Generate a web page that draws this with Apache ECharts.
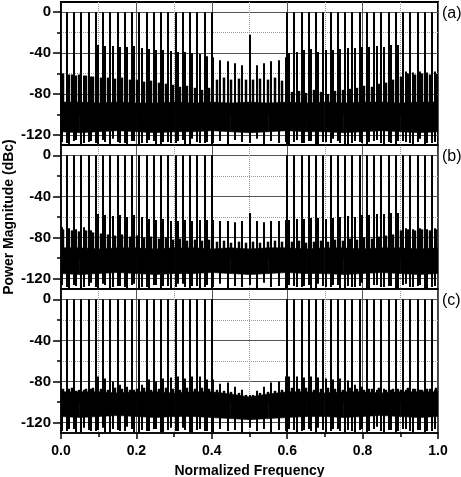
<!doctype html>
<html>
<head>
	<meta charset="UTF-8">
	<title>Power Magnitude</title>
	<script src="https://cdn.jsdelivr.net/npm/echarts@6/dist/echarts.min.js"></script>
	<style>
		html, body {
			margin: 0;
			padding: 0;
			background: #fff;
		}
		#chart {
			width: 461px;
			height: 477px;
		}
	</style>
</head>
<body>
<div id="chart"></div>
<script>
	// main tones (0 dBc) and where their skirts end at the bottom
	var toneX = [0.015, 0.035, 0.054, 0.073, 0.092, 0.112, 0.131, 0.150, 0.169, 0.188, 0.208,
		0.227, 0.246, 0.265, 0.285, 0.304, 0.323, 0.342, 0.362, 0.381, 0.400,
		0.600, 0.619, 0.638, 0.658, 0.677, 0.696, 0.715, 0.735, 0.754, 0.773, 0.792,
		0.812, 0.831, 0.850, 0.869, 0.888, 0.908, 0.927, 0.946, 0.965, 0.985];
	var toneTop = [0, 0, 0, 0, 0, 0, 0, 0, 0, 0, 0, 0, 0, 0, 0, 0, 0, 0, 0, 0, 0,
		0, 0, 0, 0, 0, 0, 0, 0, 0, 0, 0, 0, 0, 0, 0, 0, 0, 0, 0, 0, 0];
	var toneLow = [-128, -126, -129, -127, -128, -125, -129, -127, -128, -126, -129,
		-128, -126, -129, -127, -128, -125, -129, -127, -128, -129,
		-129, -127, -128, -126, -129, -127, -128, -126, -129, -128, -127,
		-129, -126, -128, -127, -129, -126, -128, -127, -129, -128];

	// spurs next to each tone and inside the notch
	var spurX = [0.003, 0.021, 0.041, 0.060, 0.079, 0.098, 0.118, 0.137, 0.156, 0.175, 0.194,
		0.214, 0.233, 0.252, 0.271, 0.291, 0.310, 0.329, 0.348, 0.368, 0.387,
		0.404, 0.423, 0.442, 0.462, 0.481, 0.500, 0.519, 0.538, 0.558, 0.577, 0.596,
		0.606, 0.625, 0.644, 0.664, 0.683, 0.702, 0.721, 0.741, 0.760, 0.779, 0.798,
		0.818, 0.837, 0.856, 0.875, 0.894, 0.914, 0.933, 0.952, 0.971, 0.991];
	var spurA = [-60, -61, -62, -62, -63, -32, -33, -33, -34, -34, -33,
		-35, -36, -37, -37, -38, -39, -39, -40, -41, -43,
		-44, -47, -48, -50, -52, -22, -52, -50, -48, -47, -44,
		-40, -39, -37, -36, -39, -37, -37, -36, -35, -35, -34,
		-34, -33, -34, -32, -32, -58, -59, -58, -59, -58];
	var spurB = [-70, -71, -72, -70, -73, -57, -58, -59, -58, -60, -58,
		-60, -62, -63, -62, -64, -64, -63, -64, -63, -63,
		-63, -64, -64, -65, -64, -56, -64, -65, -64, -64, -63,
		-63, -62, -62, -61, -61, -62, -61, -60, -59, -60, -58,
		-58, -57, -57, -56, -56, -71, -72, -71, -72, -71];
	var spurC = [-88, -87, -89, -88, -87, -75, -77, -80, -83, -85, -88,
		-83, -78, -80, -77, -76, -75, -77, -75, -75, -78,
		-78, -82, -81, -85, -88, -93, -89, -85, -81, -80, -75,
		-75, -75, -76, -75, -76, -77, -78, -77, -79, -83, -85,
		-87, -88, -87, -88, -87, -88, -87, -88, -87, -88];
	var spurLowA = [-127, -129, -125, -128, -126, -129, -127, -124, -128, -129, -126,
		-128, -125, -129, -127, -128, -126, -129, -124, -128, -127,
		-128, -126, -129, -125, -127, -128, -124, -129, -126, -128,
		-127, -129, -125, -128, -126, -129, -127, -124, -128, -129, -126,
		-128, -127, -125, -129, -128, -126, -127, -129, -124, -128, -127];
	var spurLowB = [-126, -129, -127, -128, -124, -129, -126, -128, -127, -129, -125,
		-128, -129, -126, -127, -129, -125, -128, -127, -129, -126,
		-128, -125, -129, -127, -128, -126, -129, -124, -128, -127, -129,
		-126, -128, -127, -129, -125, -128, -126, -129, -127, -128,
		-124, -129, -126, -128, -127, -129, -125, -128, -126, -129, -127];
	var spurLowC = [-128, -126, -129, -125, -128, -127, -129, -126, -128, -124, -129,
		-127, -128, -126, -129, -125, -128, -127, -129, -126, -128,
		-129, -126, -128, -127, -129, -125, -128, -126, -129, -127, -128,
		-126, -129, -127, -128, -125, -129, -126, -128, -127, -129,
		-126, -128, -124, -129, -127, -128, -126, -129, -127, -128, -126];

	// top of the dense spur forest above the noise floor
	var floorX = [0.006, 0.028, 0.047, 0.066, 0.086, 0.105, 0.124, 0.143, 0.163, 0.182, 0.201,
		0.220, 0.239, 0.259, 0.278, 0.297, 0.316, 0.335, 0.355, 0.374, 0.393,
		0.413, 0.433, 0.452, 0.471, 0.490, 0.510, 0.529, 0.548, 0.567, 0.587,
		0.613, 0.632, 0.651, 0.670, 0.689, 0.708, 0.728, 0.747, 0.766, 0.785, 0.805,
		0.824, 0.843, 0.862, 0.881, 0.901, 0.920, 0.939, 0.958, 0.978, 0.996];
	var floorA = [-60, -61, -61, -62, -63, -64, -64, -65, -64, -66, -66,
		-68, -67, -69, -70, -71, -73, -72, -74, -76, -74,
		-66, -64, -66, -65, -66, -66, -65, -66, -64, -67,
		-78, -77, -79, -76, -78, -80, -77, -76, -75, -74, -72,
		-73, -70, -69, -66, -63, -60, -61, -60, -61, -60];
	var floorB = [-72, -73, -74, -73, -75, -76, -77, -78, -77, -79, -78,
		-80, -79, -81, -80, -82, -81, -83, -82, -83, -82,
		-84, -83, -85, -84, -85, -84, -85, -84, -83, -84,
		-84, -83, -85, -84, -83, -84, -82, -83, -81, -82, -80,
		-81, -79, -78, -77, -73, -72, -73, -72, -73, -72];
	var floorC = [-87, -86, -88, -87, -86, -87, -88, -86, -87, -88, -87,
		-86, -88, -87, -86, -87, -88, -86, -87, -86, -87,
		-88, -89, -90, -91, -93, -93, -91, -90, -89, -88,
		-86, -87, -86, -88, -87, -86, -87, -88, -86, -87, -88,
		-87, -86, -88, -87, -88, -86, -87, -88, -87, -86];

	// solid noise band
	var bandX = [0, 0.05, 0.1, 0.15, 0.2, 0.25, 0.3, 0.35, 0.4, 0.45, 0.5,
		0.55, 0.6, 0.65, 0.7, 0.75, 0.8, 0.85, 0.9, 0.95, 1.0];
	var bandTopA = [-88, -88, -89, -88, -89, -89, -88, -89, -88, -89, -88,
		-89, -88, -89, -88, -89, -88, -88, -89, -88, -88];
	var bandBotA = [-117, -118, -117, -116, -117, -118, -117, -117, -116, -117, -118,
		-117, -116, -117, -117, -118, -117, -116, -117, -118, -117];
	var bandTopB = [-90, -90, -91, -90, -90, -91, -90, -90, -91, -90, -91,
		-90, -90, -91, -90, -90, -91, -90, -90, -91, -90];
	var bandBotB = [-115, -116, -115, -114, -115, -116, -115, -115, -114, -115, -116,
		-115, -114, -115, -115, -116, -115, -114, -115, -116, -115];
	var bandTopC = [-90, -90, -90, -91, -90, -90, -91, -90, -90, -92, -95,
		-92, -90, -90, -91, -90, -90, -91, -90, -90, -90];
	var bandBotC = [-114, -115, -114, -113, -114, -115, -114, -114, -115, -116, -117,
		-116, -115, -114, -114, -115, -114, -113, -114, -115, -114];

	var yLabelValues = [0, -40, -80, -120];
	var yMinorValues = [-20, -60, -100];
	var panelNames = ['(a)', '(b)', '(c)'];

	var font = '"Liberation Sans", Arial, sans-serif';
	var gridTops = [2, 145, 289];
	var gridHeights = [143, 144, 144];

	function segRender(w) {
		return function (params, api) {
			var p1 = api.coord([api.value(0), api.value(1)]);
			var p2 = api.coord([api.value(0), api.value(2)]);
			var x = Math.round(p1[0]);
			return {
				type: 'line',
				shape: {x1: x, y1: p1[1], x2: x, y2: p2[1]},
				style: {stroke: '#000', lineWidth: w}
			};
		};
	}

	// one strip of the band between sample i and sample i + 1
	function bandRender(params, api) {
		var i = params.dataIndexInside;
		if (i >= params.dataInsideLength - 1) return;
		var a = api.coord([api.value(0, i), api.value(1, i)]);
		var b = api.coord([api.value(0, i + 1), api.value(1, i + 1)]);
		var c = api.coord([api.value(0, i + 1), api.value(2, i + 1)]);
		var d = api.coord([api.value(0, i), api.value(2, i)]);
		return {
			type: 'polygon',
			shape: {points: [a, b, c, d]},
			style: {fill: '#000', stroke: '#000', lineWidth: 0.6}
		};
	}

	function rows(xs, lows, highs) {
		var out = [];
		for (var i = 0; i < xs.length; i++) out.push([xs[i], lows[i], highs[i]]);
		return out;
	}

	var panels = [
		{spur: spurA, spurLow: spurLowA, floor: floorA, top: bandTopA, bot: bandBotA},
		{spur: spurB, spurLow: spurLowB, floor: floorB, top: bandTopB, bot: bandBotB},
		{spur: spurC, spurLow: spurLowC, floor: floorC, top: bandTopC, bot: bandBotC}
	];

	var grids = [], xAxes = [], yAxes = [], series = [], graphics = [];

	panels.forEach(function (p, i) {
		var last = i === 2;
		var floorLow = p.floor.map(function () { return -100; });
		grids.push({
			left: 61, right: 23, top: gridTops[i], height: gridHeights[i],
			outerBoundsMode: 'none', containLabel: false,
			show: true, borderColor: '#000', borderWidth: i === 0 ? 2 : 1.5, backgroundColor: 'transparent'
		});
		xAxes.push({
			type: 'value', gridIndex: i, min: 0, max: 1, interval: 0.2,
			axisLine: {show: true, onZero: false, lineStyle: {color: '#000', width: 1.5}},
			axisTick: {show: last, length: 6, lineStyle: {color: '#000', width: 1.5}},
			minorTick: {show: last, splitNumber: 2, length: 4, lineStyle: {color: '#000', width: 1.5}},
			axisLabel: {
				show: last, margin: 11, color: '#000', fontWeight: 'bold', fontSize: 14, fontFamily: font,
				formatter: function (v) { return v.toFixed(1); }
			},
			splitLine: {show: true, lineStyle: {color: '#555', width: 1}},
			minorSplitLine: {show: true, lineStyle: {color: '#999', width: 1, type: 'dotted'}},
			name: last ? 'Normalized Frequency' : '',
			nameLocation: 'middle', nameGap: 31,
			nameTextStyle: {color: '#000', fontWeight: 'bold', fontSize: 14, fontFamily: font}
		});
		yAxes.push({
			type: 'value', gridIndex: i, min: -130, max: 10, interval: 10,
			axisLine: {show: true, onZero: false, lineStyle: {color: '#000', width: 1.5}},
			axisTick: {show: true, length: 8, customValues: yLabelValues, lineStyle: {color: '#000', width: 1.5}},
			axisLabel: {
				customValues: yLabelValues, margin: 10, color: '#000',
				fontWeight: 'bold', fontSize: 15, fontFamily: font
			},
			splitLine: {show: true, lineStyle: {color: '#555', width: 1}},
			name: i === 1 ? 'Power Magnitude (dBc)' : '',
			nameLocation: 'middle', nameGap: 45, nameMoveOverlap: false,
			nameTextStyle: {color: '#000', fontWeight: 'bold', fontSize: 14, fontFamily: font}
		});
		graphics.push({
			type: 'text', left: 442, top: gridTops[i] + 4,
			style: {text: panelNames[i], font: '16px ' + font, fill: '#000'}
		});

		series.push({
			type: 'custom', xAxisIndex: i, yAxisIndex: i, clip: true, silent: true,
			renderItem: bandRender, encode: {x: 0, y: [1, 2]},
			data: rows(bandX, p.top, p.bot)
		});
		series.push({
			type: 'custom', xAxisIndex: i, yAxisIndex: i, clip: true, silent: true,
			renderItem: segRender(2.5), encode: {x: 0, y: [1, 2]},
			data: rows(floorX, floorLow, p.floor)
		});
		series.push({
			type: 'custom', xAxisIndex: i, yAxisIndex: i, clip: true, silent: true,
			renderItem: segRender(2), encode: {x: 0, y: [1, 2]},
			data: rows(spurX, p.spurLow, p.spur)
		});
		series.push({
			type: 'custom', xAxisIndex: i, yAxisIndex: i, clip: true, silent: true,
			renderItem: segRender(2), encode: {x: 0, y: [1, 2]},
			data: rows(toneX, toneLow, toneTop)
		});
	});

	// minor y ticks and dotted grid lines
	panels.forEach(function (p, i) {
		yAxes.push({
			type: 'value', gridIndex: i, min: -130, max: 10, interval: 10, position: 'left',
			axisLine: {show: false},
			axisTick: {show: true, length: 4, customValues: yMinorValues, lineStyle: {color: '#000', width: 1.5}},
			axisLabel: {show: false, customValues: yMinorValues},
			splitLine: {show: true, lineStyle: {color: '#999', width: 1, type: 'dotted'}}
		});
	});

	var chart = echarts.init(document.getElementById('chart'));
	chart.setOption({
		animation: false,
		grid: grids,
		xAxis: xAxes,
		yAxis: yAxes,
		series: series,
		graphic: graphics
	});
</script>
</body>
</html>
